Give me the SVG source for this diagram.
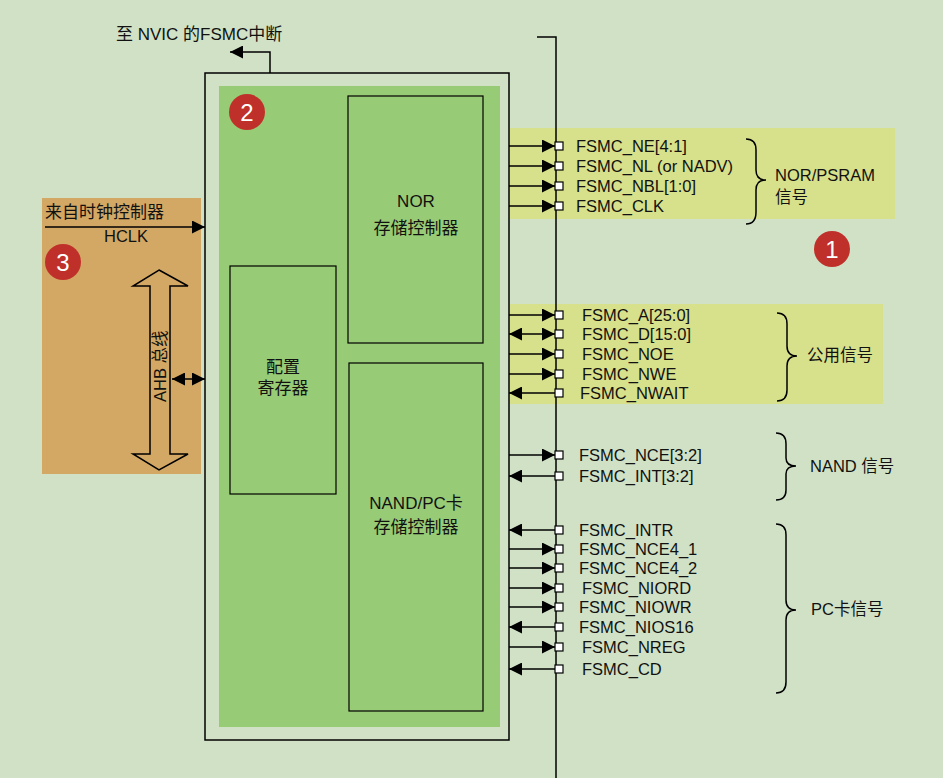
<svg xmlns="http://www.w3.org/2000/svg" width="943" height="778" viewBox="0 0 943 778">
<defs>
<marker id="ah" viewBox="0 0 10 10" refX="10" refY="5" markerWidth="13" markerHeight="13" markerUnits="userSpaceOnUse" orient="auto-start-reverse"><path d="M0,0 L10,5 L0,10 z" fill="#000"/></marker>
</defs>
<style>
text{font-family:"Liberation Sans","Noto Sans CJK SC",sans-serif;fill:#111}
.s{font-size:16.5px}
.l{font-size:17px}
.ln{stroke:#000;stroke-width:1.5;fill:none}
.sq{fill:#fff;stroke:#000;stroke-width:1.2}
.br{stroke:#000;stroke-width:1.5;fill:none}
.num{fill:#c0302a}
.nt{fill:#fff;font-size:24px;text-anchor:middle}
</style>
<rect width="943" height="778" fill="#d0e1c6"/>
<rect x="510" y="128" width="385" height="91" fill="#d7e08a"/>
<rect x="510" y="304" width="373" height="100" fill="#d7e08a"/>
<g id="clock-panel">
<rect x="42" y="198" width="159" height="276" fill="#d3a764"/>
<text x="45" y="218" class="l">来自时钟控制器</text>
<text x="104" y="242" class="s">HCLK</text>
<circle cx="63" cy="262" r="18" class="num"/><text x="63" y="271" class="nt">3</text>
<path d="M159,270 L188,286 L170,286 L170,454 L188,454 L159,470 L133,454 L150,454 L150,286 L133,286 Z" fill="none" stroke="#000" stroke-width="1.5"/>
<text transform="translate(166,402) rotate(-90)" class="s">AHB 总线</text>
</g>
<g id="fsmc">
<rect x="205" y="73" width="304" height="667" fill="#d0e1c6" stroke="#000" stroke-width="1.5"/>
<rect x="219" y="86" width="281" height="641" fill="#98cb75"/>
<circle cx="247" cy="112" r="18" class="num"/><text x="247" y="121" class="nt">2</text>
</g>
<g id="nor"><rect x="348" y="96" width="135" height="247" fill="none" stroke="#000" stroke-width="1.2"/>
<text x="416" y="207" class="l" text-anchor="middle">NOR</text><text x="416" y="234" class="l" text-anchor="middle">存储控制器</text></g>
<g id="config"><rect x="230" y="266" width="106" height="228" fill="none" stroke="#000" stroke-width="1.2"/>
<text x="283" y="373" class="l" text-anchor="middle">配置</text><text x="283" y="394" class="l" text-anchor="middle">寄存器</text></g>
<g id="nand"><rect x="349" y="363" width="134" height="348" fill="none" stroke="#000" stroke-width="1.2"/>
<text x="416" y="509" class="l" text-anchor="middle">NAND/PC卡</text><text x="416" y="533" class="l" text-anchor="middle">存储控制器</text></g>
<text x="116" y="40" class="l">至 NVIC 的FSMC中断</text>
<circle cx="832" cy="249" r="18" class="num"/><text x="832" y="258" class="nt">1</text>
<g id="connectors">
<path class="ln" d="M270,73 V52 H230" marker-end="url(#ah)"/>
<path class="ln" d="M45,227 H205" marker-end="url(#ah)"/>
<path class="ln" d="M172,379 H205" marker-start="url(#ah)" marker-end="url(#ah)"/>
<path class="ln" d="M537,37 H556 V778"/>
<g class="ln">
<path d="M509,146 H555" marker-end="url(#ah)"/>
<path d="M509,166 H555" marker-end="url(#ah)"/>
<path d="M509,186 H555" marker-end="url(#ah)"/>
<path d="M509,206 H555" marker-end="url(#ah)"/>
<path d="M509,315 H555" marker-end="url(#ah)"/>
<path d="M509,334 H555" marker-start="url(#ah)" marker-end="url(#ah)"/>
<path d="M509,354 H555" marker-end="url(#ah)"/>
<path d="M509,374 H555" marker-end="url(#ah)"/>
<path d="M509,393 H555" marker-start="url(#ah)"/>
<path d="M509,455 H555" marker-end="url(#ah)"/>
<path d="M509,476 H555" marker-start="url(#ah)"/>
<path d="M509,530 H555" marker-start="url(#ah)"/>
<path d="M509,549 H555" marker-end="url(#ah)"/>
<path d="M509,568 H555" marker-end="url(#ah)"/>
<path d="M509,588 H555" marker-end="url(#ah)"/>
<path d="M509,607 H555" marker-end="url(#ah)"/>
<path d="M509,627 H555" marker-start="url(#ah)"/>
<path d="M509,647 H555" marker-end="url(#ah)"/>
<path d="M509,669 H555" marker-start="url(#ah)"/>
</g>
<g class="sq">
<rect x="555" y="142" width="8" height="8"/><rect x="555" y="162" width="8" height="8"/><rect x="555" y="182" width="8" height="8"/><rect x="555" y="202" width="8" height="8"/>
<rect x="555" y="311" width="8" height="8"/><rect x="555" y="330" width="8" height="8"/><rect x="555" y="350" width="8" height="8"/><rect x="555" y="370" width="8" height="8"/><rect x="555" y="389" width="8" height="8"/>
<rect x="555" y="451" width="8" height="8"/><rect x="555" y="472" width="8" height="8"/>
<rect x="555" y="526" width="8" height="8"/><rect x="555" y="545" width="8" height="8"/><rect x="555" y="564" width="8" height="8"/><rect x="555" y="584" width="8" height="8"/><rect x="555" y="603" width="8" height="8"/><rect x="555" y="623" width="8" height="8"/><rect x="555" y="643" width="8" height="8"/><rect x="555" y="665" width="8" height="8"/>
</g>
<g class="br">
<path d="M746,139 Q756,139 756,150 V170 Q756,180 766,180 Q756,180 756,190 V212 Q756,224 746,224"/>
<path d="M777,313 Q787,313 787,324 V346 Q787,356 797,356 Q787,356 787,366 V390 Q787,401 777,401"/>
<path d="M776,433 Q786,433 786,444 V458 Q786,466 796,466 Q786,466 786,474 V490 Q786,500 776,500"/>
<path d="M776,524 Q786,524 786,535 V600 Q786,610 796,610 Q786,610 786,620 V682 Q786,693 776,693"/>
</g>
</g>
<g id="labels" class="s">
<text x="576" y="152">FSMC_NE[4:1]</text>
<text x="576" y="172">FSMC_NL (or NADV)</text>
<text x="576" y="192">FSMC_NBL[1:0]</text>
<text x="576" y="212">FSMC_CLK</text>
<text x="582" y="321">FSMC_A[25:0]</text>
<text x="582" y="340">FSMC_D[15:0]</text>
<text x="582" y="360">FSMC_NOE</text>
<text x="582" y="380">FSMC_NWE</text>
<text x="580" y="399">FSMC_NWAIT</text>
<text x="579" y="461">FSMC_NCE[3:2]</text>
<text x="579" y="482">FSMC_INT[3:2]</text>
<text x="579" y="536">FSMC_INTR</text>
<text x="579" y="555">FSMC_NCE4_1</text>
<text x="579" y="574">FSMC_NCE4_2</text>
<text x="582" y="594">FSMC_NIORD</text>
<text x="579" y="613">FSMC_NIOWR</text>
<text x="579" y="633">FSMC_NIOS16</text>
<text x="582" y="653">FSMC_NREG</text>
<text x="582" y="675">FSMC_CD</text>
<text x="775" y="181">NOR/PSRAM</text>
<text x="775" y="203">信号</text>
<text x="807" y="361">公用信号</text>
<text x="810" y="472">NAND 信号</text>
<text x="811" y="615">PC卡信号</text>
</g>
</svg>
